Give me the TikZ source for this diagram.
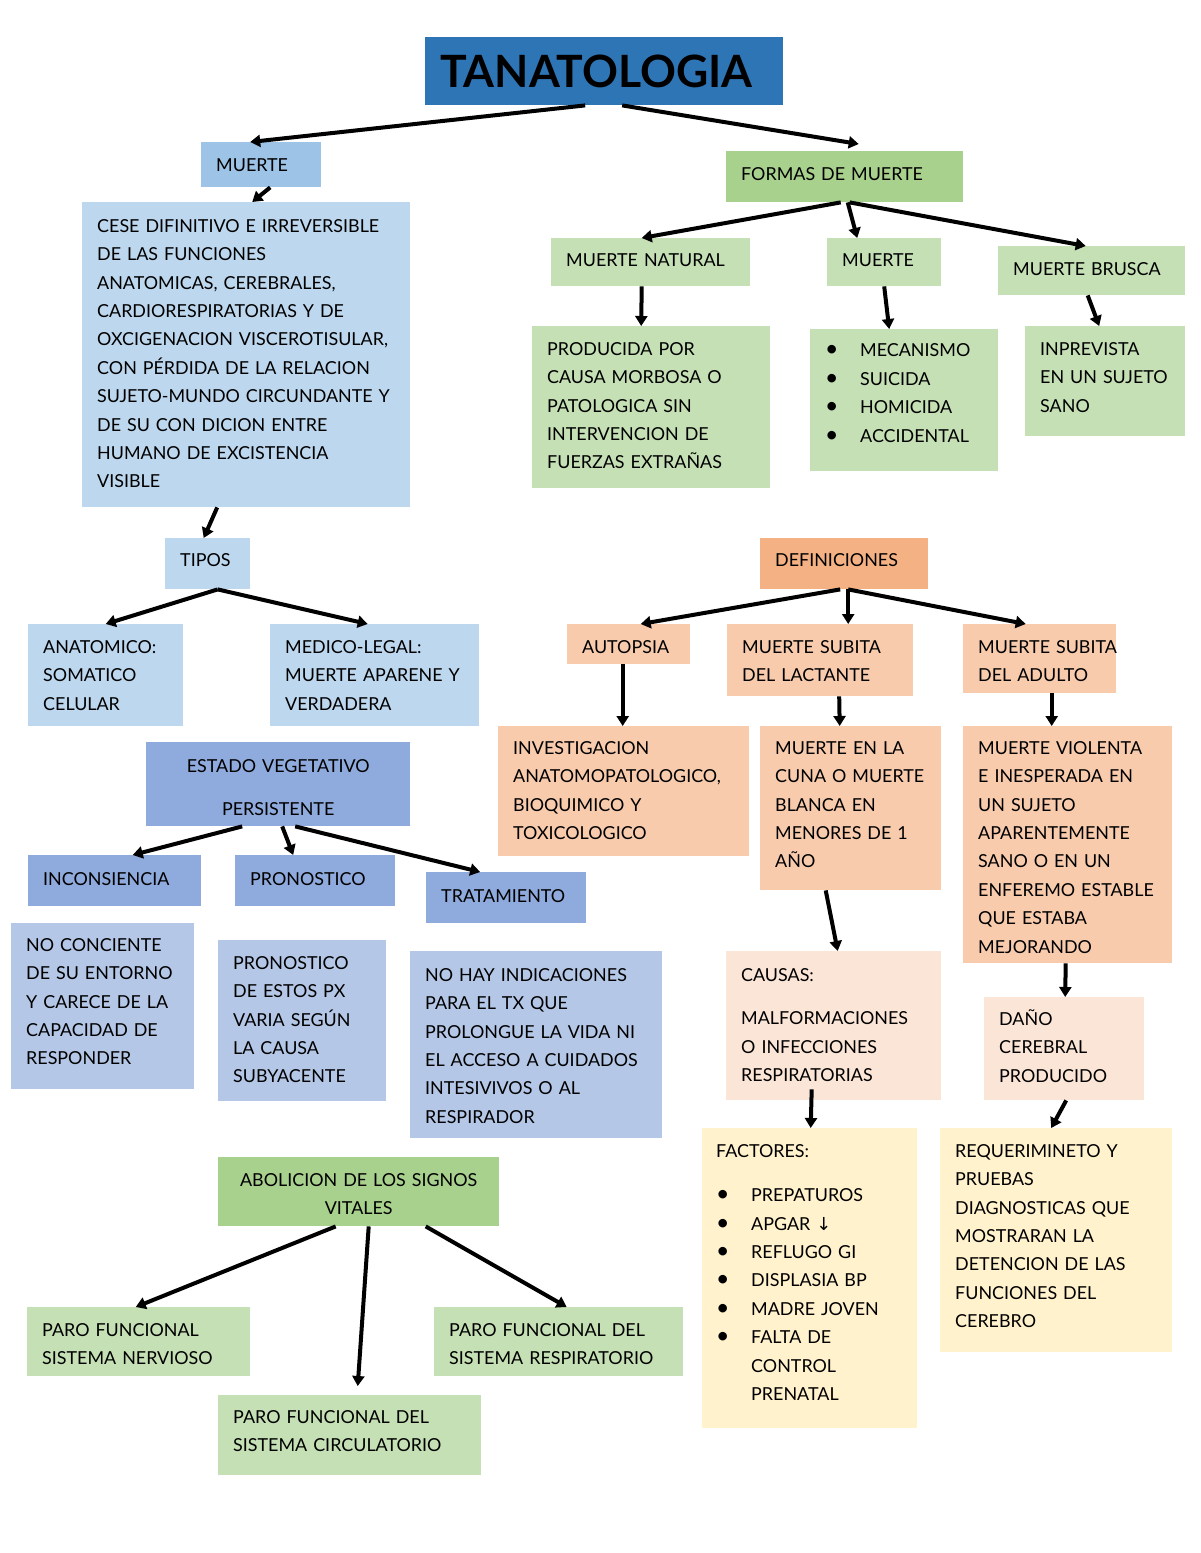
\documentclass[tikz,border=0pt]{standalone}
\usepackage{fontspec}
\setmainfont{Lato}
\newfontfamily\arrowfont{DejaVu Sans}
\usetikzlibrary{arrows.meta}

\definecolor{titblue}{HTML}{2E75B6}
\definecolor{blueA}{HTML}{9DC3E6}
\definecolor{blueB}{HTML}{BDD7EE}
\definecolor{blueC}{HTML}{8FAADC}
\definecolor{blueD}{HTML}{B4C7E7}
\definecolor{greenA}{HTML}{A9D18E}
\definecolor{greenB}{HTML}{C5E0B4}
\definecolor{orangeA}{HTML}{F4B183}
\definecolor{orangeB}{HTML}{F8CBAD}
\definecolor{orangeC}{HTML}{FBE5D6}
\definecolor{yellowA}{HTML}{FFF2CC}

\newcommand{\bulitem}{\makebox[35pt][l]{\fontsize{23}{0}\selectfont\textbullet}}

\begin{document}
\begin{tikzpicture}[x=1pt, y=-1pt,
    box/.style={anchor=north west, inner xsep=15pt, inner ysep=0pt,
        font=\fontsize{17.9}{28.4}\selectfont,
        execute at begin node={\rightskip=0pt plus 1fil minus 300pt\hyphenpenalty=10000}},
    midbox/.style={anchor=north west, inner xsep=15pt, inner ysep=0pt, align=center,
        font=\fontsize{17.9}{28.4}\selectfont},
    arr/.style={line width=4pt, -{Triangle[length=10pt,width=12pt]}}]
    \useasboundingbox (0,0) rectangle (1200,1553);
    \fill[white] (0,0) rectangle (1200,1553);

    % title
    \node[box, fill=titblue, text width=328, text height=50, text depth=18,
        font=\fontsize{44.5}{50}\selectfont\bfseries] (title) at (425,37) {TANATOLOGIA};

    % left branch: muerte
    \node[box, fill=blueA, text width=90, text height=29, text depth=16] (muerte) at (201,142) {MUERTE};
    \node[box, fill=blueB, text width=298, text height=30, text depth=275] (cese) at (82,202)
        {CESE DIFINITIVO E IRREVERSIBLE\\DE LAS FUNCIONES\\ANATOMICAS, CEREBRALES,\\CARDIORESPIRATORIAS Y DE\\OXCIGENACION VISCEROTISULAR,\\CON PÉRDIDA DE LA RELACION\\SUJETO-MUNDO CIRCUNDANTE Y\\DE SU CON DICION ENTRE\\HUMANO DE EXCISTENCIA\\VISIBLE};
    \node[box, fill=blueB, text width=55, text height=28, text depth=23] (tipos) at (165,538) {TIPOS};
    \node[box, fill=blueB, text width=125, text height=29, text depth=73] (anat) at (28,624)
        {ANATOMICO:\\SOMATICO\\CELULAR};
    \node[box, fill=blueB, text width=179, text height=29, text depth=73] (medleg) at (270,624)
        {MEDICO-LEGAL:\\MUERTE APARENE Y\\VERDADERA};

    % estado vegetativo
    \node[midbox, fill=blueC, text width=234, text height=30, text depth=54] (evp) at (146,742)
        {ESTADO VEGETATIVO\\[15pt]PERSISTENTE};
    \node[box, fill=blueC, text width=143, text height=30, text depth=21] (incons) at (28,855) {INCONSIENCIA};
    \node[box, fill=blueC, text width=130, text height=30, text depth=21] (pron) at (235,855) {PRONOSTICO};
    \node[box, fill=blueC, text width=130, text height=30, text depth=21] (trat) at (426,872) {TRATAMIENTO};
    \node[box, fill=blueD, text width=153, text height=28, text depth=138] (nocon) at (11,923)
        {NO CONCIENTE\\DE SU ENTORNO\\Y CARECE DE LA\\CAPACIDAD DE\\RESPONDER};
    \node[box, fill=blueD, text width=138, text height=29, text depth=132] (pronpx) at (218,940)
        {PRONOSTICO\\DE ESTOS PX\\VARIA SEGÚN\\LA CAUSA\\SUBYACENTE};
    \node[box, fill=blueD, text width=222, text height=30, text depth=157] (nohay) at (410,951)
        {NO HAY INDICACIONES\\PARA EL TX QUE\\PROLONGUE LA VIDA NI\\EL ACCESO A CUIDADOS\\INTESIVIVOS O AL\\RESPIRADOR};

    % signos vitales
    \node[midbox, fill=greenA, text width=251, text height=29, text depth=40] (abol) at (218,1157)
        {ABOLICION DE LOS SIGNOS\\VITALES};
    \node[box, fill=greenB, text width=193, text height=29, text depth=40] (nerv) at (27,1307)
        {PARO FUNCIONAL\\SISTEMA NERVIOSO};
    \node[box, fill=greenB, text width=233, text height=28, text depth=52] (circ) at (218,1395)
        {PARO FUNCIONAL DEL\\SISTEMA CIRCULATORIO};
    \node[box, fill=greenB, text width=219, text height=29, text depth=40] (resp) at (434,1307)
        {PARO FUNCIONAL DEL\\SISTEMA RESPIRATORIO};

    % formas de muerte
    \node[box, fill=greenA, text width=207, text height=29, text depth=22] (formas) at (726,151) {FORMAS DE MUERTE};
    \node[box, fill=greenB, text width=169, text height=28, text depth=20] (natural) at (551,238) {MUERTE NATURAL};
    \node[box, fill=greenB, text width=84, text height=28, text depth=20] (violen) at (827,238) {MUERTE};
    \node[box, fill=greenB, text width=157, text height=29, text depth=20] (brusca) at (998,246) {MUERTE BRUSCA};
    \node[box, fill=greenB, text width=208, text height=29, text depth=133] (produc) at (532,326)
        {PRODUCIDA POR\\CAUSA MORBOSA O\\PATOLOGICA SIN\\INTERVENCION DE\\FUERZAS EXTRAÑAS};
    \node[box, fill=greenB, inner xsep=15pt, text width=158, text height=27, text depth=115] (mecan) at (810,329)
        {\bulitem MECANISMO\\[0.4pt]\bulitem SUICIDA\\[0.4pt]\bulitem HOMICIDA\\[0.4pt]\bulitem ACCIDENTAL};
    \node[box, fill=greenB, text width=130, text height=29, text depth=81] (inprev) at (1025,326)
        {INPREVISTA\\EN UN SUJETO\\SANO};

    % definiciones
    \node[box, fill=orangeA, text width=138, text height=28, text depth=23] (defin) at (760,538) {DEFINICIONES};
    \node[box, fill=orangeB, text width=93, text height=29, text depth=11] (autop) at (567,624) {AUTOPSIA};
    \node[box, fill=orangeB, text width=156, text height=29, text depth=43] (lact) at (727,624)
        {MUERTE SUBITA\\DEL LACTANTE};
    \node[box, fill=orangeB, text width=123, text height=29, text depth=40] (adult) at (963,624)
        {MUERTE SUBITA\\DEL ADULTO};
    \node[box, fill=orangeB, text width=221, text height=28, text depth=102] (invest) at (498,726)
        {INVESTIGACION\\ANATOMOPATOLOGICO,\\BIOQUIMICO Y\\TOXICOLOGICO};
    \node[box, fill=orangeB, text width=151, text height=28, text depth=136] (cuna) at (760,726)
        {MUERTE EN LA\\CUNA O MUERTE\\BLANCA EN\\MENORES DE 1\\AÑO};
    \node[box, fill=orangeB, text width=179, text height=28, text depth=209] (viol) at (963,726)
        {MUERTE VIOLENTA\\E INESPERADA EN\\UN SUJETO\\APARENTEMENTE\\SANO O EN UN\\ENFEREMO ESTABLE\\QUE ESTABA\\MEJORANDO};
    \node[box, fill=orangeC, text width=185, text height=30, text depth=119] (causas) at (726,951)
        {CAUSAS:\\[15pt]MALFORMACIONES\\O INFECCIONES\\RESPIRATORIAS};
    \node[box, fill=orangeC, text width=130, text height=28, text depth=75] (dano) at (984,997)
        {DAÑO\\CEREBRAL\\PRODUCIDO};
    \node[box, fill=yellowA, inner xsep=14pt, text width=187, text height=29, text depth=271] (fact) at (702,1128)
        {FACTORES:\\[16pt]\bulitem PREPATUROS\\\bulitem APGAR {\arrowfont ↓}\\\bulitem REFLUGO GI\\\bulitem DISPLASIA BP\\\bulitem MADRE JOVEN\\\bulitem FALTA DE\\\hspace*{35pt}CONTROL\\\hspace*{35pt}PRENATAL};
    \node[box, fill=yellowA, text width=202, text height=29, text depth=195] (req) at (940,1128)
        {REQUERIMINETO Y\\PRUEBAS\\DIAGNOSTICAS QUE\\MOSTRARAN LA\\DETENCION DE LAS\\FUNCIONES DEL\\CEREBRO};

    % arrows
    \draw[arr] ([xshift=-19pt]title.south) -- ([xshift=-11pt]muerte.north);
    \draw[arr] ([xshift=18pt]title.south) -- ([xshift=14pt,yshift=7pt]formas.north);
    \draw[arr] ([xshift=9pt]muerte.south) -- ([xshift=6pt]cese.north);
    \draw[arr] ([xshift=-29pt]cese.south) -- ([xshift=-4pt]tipos.north);
    \draw[arr] ([xshift=10pt]tipos.south) -- (anat.north);
    \draw[arr] ([xshift=10pt]tipos.south) -- ([xshift=-7pt]medleg.north);
    \draw[arr] ([xshift=-36pt]evp.south) -- ([xshift=18pt]incons.north);
    \draw[arr] ([xshift=4pt]evp.south) -- ([xshift=-22pt]pron.north);
    \draw[arr] ([xshift=17pt]evp.south) -- ([xshift=-26pt]trat.north);
    \draw[arr] ([xshift=-23pt]abol.south) -- ([xshift=-3pt]nerv.north);
    \draw[arr] ([xshift=10pt]abol.south) -- ([xshift=8pt,yshift=9pt]circ.north);
    \draw[arr] ([xshift=67pt]abol.south) -- ([xshift=8pt]resp.north);

    \draw[arr] ([xshift=-4pt]formas.south) -- ([xshift=-9pt]natural.north);
    \draw[arr] ([xshift=3pt]formas.south) -- ([xshift=-27pt]violen.north);
    \draw[arr] ([xshift=5pt]formas.south) -- ([xshift=-6pt]brusca.north);
    \draw[arr] ([xshift=-9pt]natural.south) -- ([xshift=-10pt]produc.north);
    \draw[arr] (violen.south) -- ([xshift=-15pt]mecan.north);
    \draw[arr] ([xshift=-4pt]brusca.south) -- ([xshift=-6pt]inprev.north);

    \draw[arr] ([xshift=-4pt]defin.south) -- ([xshift=12pt]autop.north);
    \draw[arr] ([xshift=4pt]defin.south) -- ([xshift=28pt]lact.north);
    \draw[arr] ([xshift=4pt]defin.south) -- ([xshift=-14pt]adult.north);
    \draw[arr] ([xshift=-6pt]autop.south) -- ([xshift=-1pt]invest.north);
    \draw[arr] ([xshift=19pt]lact.south) -- ([xshift=-11pt]cuna.north);
    \draw[arr] ([xshift=12pt]adult.south) -- ([xshift=-16pt]viol.north);
    \draw[arr] ([xshift=-25pt]cuna.south) -- ([xshift=4pt]causas.north);
    \draw[arr] ([xshift=-2pt]viol.south) -- ([xshift=1pt]dano.north);
    \draw[arr] ([xshift=-22pt,yshift=11pt]causas.south) -- ([xshift=1pt]fact.north);
    \draw[arr] ([xshift=2pt]dano.south) -- ([xshift=-5pt]req.north);
\end{tikzpicture}
\end{document}
